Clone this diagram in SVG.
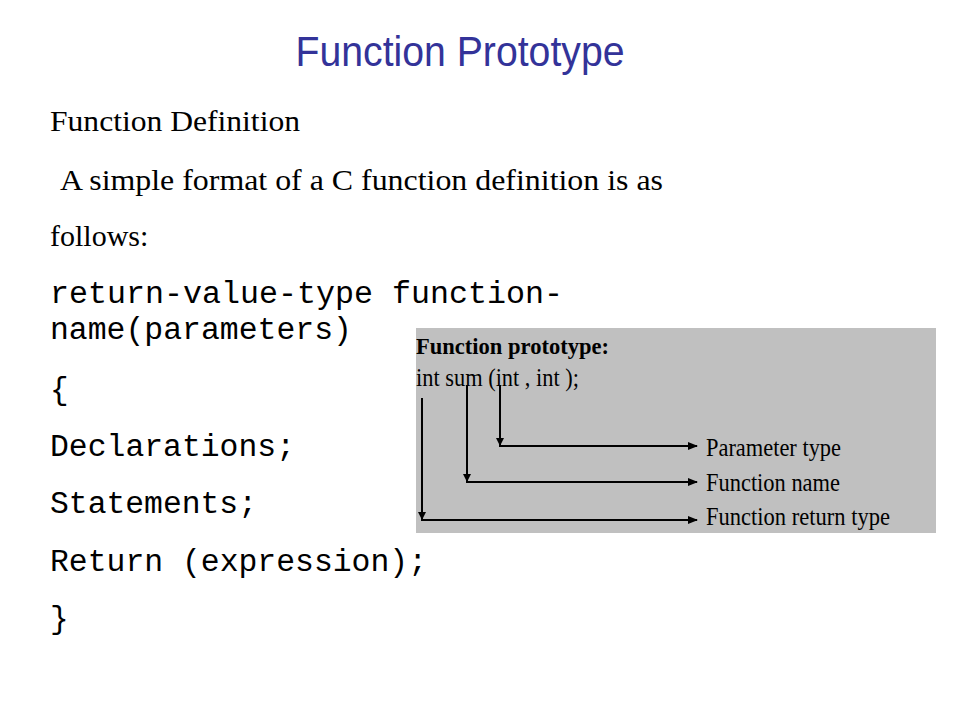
<svg xmlns="http://www.w3.org/2000/svg" width="960" height="720" viewBox="0 0 960 720">
<style>
.t{font-family:"Liberation Serif",serif;font-size:30px;fill:#000}
.m{font-family:"Liberation Mono",monospace;font-size:31px;fill:#000}
.b{font-family:"Liberation Serif",serif;fill:#000}
.l{stroke:#000;stroke-width:2;fill:none}
</style>
<defs>
<marker id="a" markerWidth="10" markerHeight="8" refX="9" refY="4" orient="auto" markerUnits="userSpaceOnUse"><path d="M0,0L10,4L0,8Z" fill="#000"/></marker>
</defs>
<rect width="960" height="720" fill="#fff"/>
<text x="460" y="66" text-anchor="middle" font-family="Liberation Sans,sans-serif" font-size="42" fill="#333399" textLength="329" lengthAdjust="spacingAndGlyphs">Function Prototype</text>
<g id="text">
<text class="t" x="50" y="131" textLength="250" lengthAdjust="spacingAndGlyphs">Function Definition</text>
<text class="t" x="60" y="190" textLength="603" lengthAdjust="spacingAndGlyphs">A simple format of a C function definition is as</text>
<text class="t" x="50" y="246">follows:</text>
<text class="m" x="50" y="303" textLength="513" lengthAdjust="spacingAndGlyphs">return-value-type function-</text>
<text class="m" x="50" y="339" textLength="302" lengthAdjust="spacingAndGlyphs">name(parameters)</text>
<text class="m" x="50" y="399">{</text>
<text class="m" x="50" y="456" textLength="245" lengthAdjust="spacingAndGlyphs">Declarations;</text>
<text class="m" x="50" y="513" textLength="207" lengthAdjust="spacingAndGlyphs">Statements;</text>
<text class="m" x="50" y="571" textLength="377" lengthAdjust="spacingAndGlyphs">Return (expression);</text>
<text class="m" x="50" y="628">}</text>
</g>
<g id="box">
<rect x="416" y="328" width="520" height="205" fill="#c0c0c0"/>
<text class="b" x="416" y="354" font-size="24" font-weight="bold" textLength="193" lengthAdjust="spacingAndGlyphs">Function prototype:</text>
<text class="b" x="416" y="386" font-size="25" textLength="163" lengthAdjust="spacingAndGlyphs">int sum (int , int );</text>
<text class="b" x="706" y="456" font-size="25" textLength="135" lengthAdjust="spacingAndGlyphs">Parameter type</text>
<text class="b" x="706" y="491" font-size="25" textLength="134" lengthAdjust="spacingAndGlyphs">Function name</text>
<text class="b" x="706" y="525" font-size="25" textLength="184" lengthAdjust="spacingAndGlyphs">Function return type</text>
</g>
<g id="connectors">
<path class="l" d="M500,385V446H697" marker-end="url(#a)"/>
<path class="l" d="M467,385V482H697" marker-end="url(#a)"/>
<path class="l" d="M422,398V520H697" marker-end="url(#a)"/>
<path d="M496,438L504,438L500,446Z M463,474L471,474L467,482Z M418,512L426,512L422,520Z" fill="#000"/>
</g>
</svg>
